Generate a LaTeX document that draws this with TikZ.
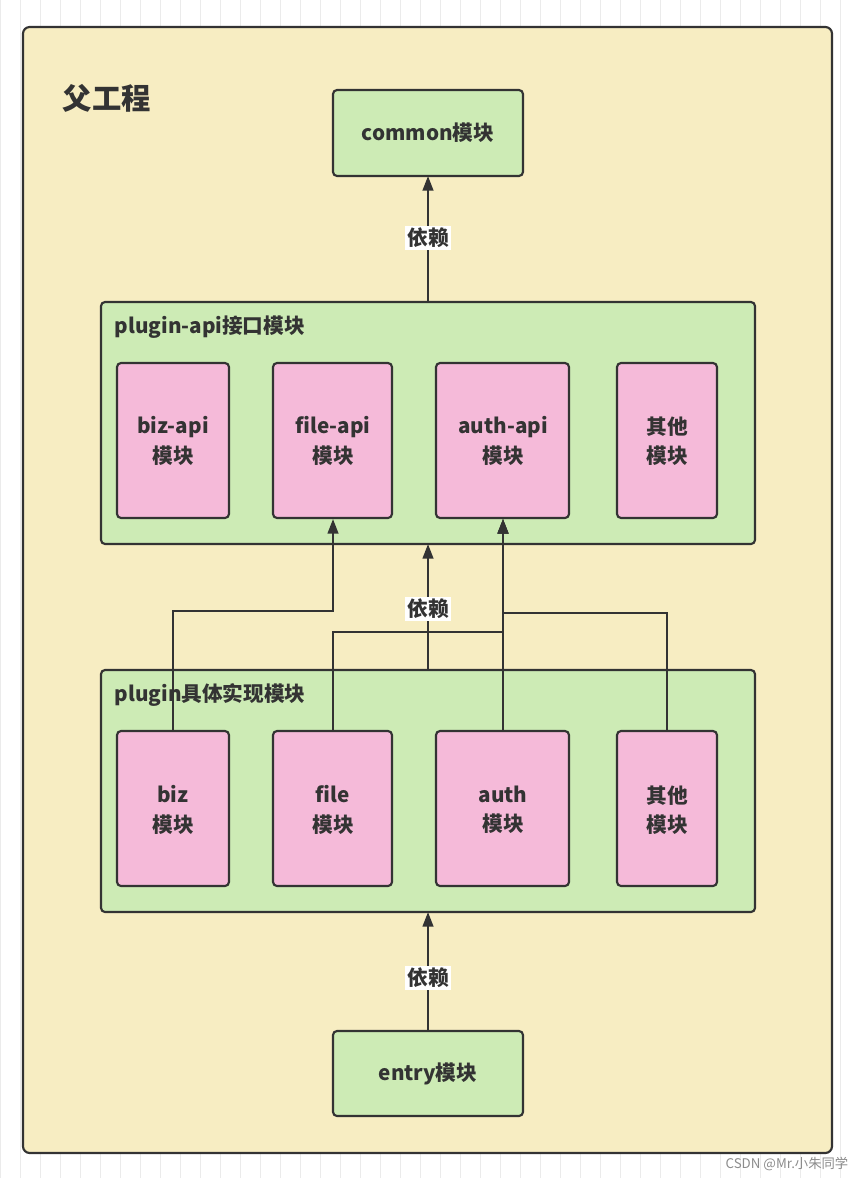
\documentclass[tikz,border=0pt]{standalone}
\usepackage{fontspec}
\setmainfont{Noto Sans CJK SC}
\usetikzlibrary{arrows.meta}
\definecolor{bgy}{HTML}{F7EDC2}
\definecolor{grn}{HTML}{CDEBB5}
\definecolor{pnk}{HTML}{F5BAD9}
\definecolor{ink}{HTML}{333333}
\begin{document}
\begin{tikzpicture}[x=0.75pt,y=-0.75pt,
  box/.style={draw=ink,line width=1.6pt,rounded corners=3pt},
  mod/.style={box,fill=pnk},
  lbl/.style={font=\bfseries\fontsize{15.5}{22}\selectfont,text=ink,align=center},
  dep/.style={fill=white,inner sep=1.5pt,font=\bfseries\fontsize{15.5}{18}\selectfont,text=ink},
  arr/.style={draw=ink,line width=1.7pt,-{Triangle[length=11pt,width=8pt]}}]
\useasboundingbox (0,0) rectangle (856,1178);
\fill[white] (0,0) rectangle (856,1178);
\draw[black!8,line width=0.5pt,step=20] (0,0) grid (856,1178);
\draw[box,fill=bgy,rounded corners=5pt] (23,27) rectangle (832,1153);
\node[lbl,font=\bfseries\fontsize{22}{26}\selectfont,anchor=west] (title) at (58,98) {父工程};
% common
\draw[box,fill=grn] (333,90) rectangle (523,176);
\node[lbl] (common) at (428,133) {common模块};
\coordinate (commonb) at (428,176);
% api group
\draw[box,fill=grn] (101,302) rectangle (755,544);
\node[lbl,anchor=west] (apil) at (110,327) {plugin-api接口模块};
\coordinate (apitop) at (428,302);
\coordinate (apibot) at (428,544);
\draw[mod] (117,363) rectangle (229,518); \node[lbl] (bizapi) at (173,441) {biz-api\\模块};
\draw[mod] (273,363) rectangle (392,518); \node[lbl] (fileapi) at (333,441) {file-api\\模块};
\draw[mod] (436,363) rectangle (569,518); \node[lbl] (authapi) at (503,441) {auth-api\\模块};
\draw[mod] (617,363) rectangle (717,518); \node[lbl] (othapi) at (667,441) {其他\\模块};
\coordinate (fileapib) at (333,519);
\coordinate (authapib) at (503,519);
% impl group
\draw[box,fill=grn] (101,670) rectangle (755,912);
\node[lbl,anchor=west] (impll) at (110,695) {plugin具体实现模块};
\coordinate (impltop) at (428,670);
\coordinate (implbot) at (428,912);
\draw[mod] (117,731) rectangle (229,886); \node[lbl] (biz) at (173,810) {biz\\模块};
\draw[mod] (273,731) rectangle (392,886); \node[lbl] (file) at (333,810) {file\\模块};
\draw[mod] (436,731) rectangle (569,886); \node[lbl] (auth) at (503,810) {auth\\模块};
\draw[mod] (617,731) rectangle (717,886); \node[lbl] (oth) at (667,810) {其他\\模块};
\coordinate (bizt) at (173,731);
\coordinate (filet) at (333,731);
\coordinate (autht) at (503,731);
\coordinate (otht) at (667,731);
% entry
\draw[box,fill=grn] (333,1031) rectangle (523,1116);
\node[lbl] (entry) at (428,1074) {entry模块};
\coordinate (entryt) at (428,1031);
% connectors
\draw[arr] (apitop) -- (commonb);
\node[dep] (d1) at (428,238) {依赖};
\draw[arr] (bizt) |- (333,611) -- (fileapib);
\draw[arr] (otht) |- (503,613) -- (authapib);
\draw[arr] (filet) |- (503,632) -- (authapib);
\draw[arr] (autht) -- (authapib);
\draw[arr] (impltop) -- (apibot);
\node[dep] (d2) at (428,609) {依赖};
\draw[arr] (entryt) -- (implbot);
\node[dep] (d3) at (428,978) {依赖};
\node[text=black!45,font=\fontsize{10}{12}\selectfont,anchor=east] (wm) at (853,1164) {CSDN @Mr.小朱同学};
\end{tikzpicture}
\end{document}
